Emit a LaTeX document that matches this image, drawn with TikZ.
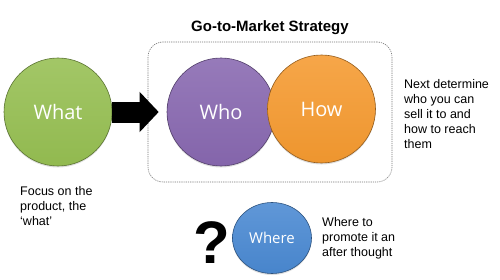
\documentclass[tikz,border=0pt]{standalone}
\usepackage{fontspec}
\setmainfont{Liberation Sans}
\newfontfamily\discfont{Open Sans}
\usetikzlibrary{arrows.meta,shapes.geometric,shadows}

\definecolor{whatgreen}{HTML}{96BF52}
\definecolor{whopurple}{HTML}{8868B0}
\definecolor{howorange}{HTML}{F59A30}
\definecolor{whereblue}{HTML}{4A89D2}

\begin{document}
\begin{tikzpicture}[
        x=1pt, y=1pt,
        disc/.style  = {circle, draw=#1!60!black, line width=0.6pt,
                        top color=#1!88!white, bottom color=#1!97!black,
                        minimum size=108pt, inner sep=0pt, text=white,
                        font=\discfont\fontsize{20}{24}\selectfont,
                        drop shadow={opacity=0.25, shadow xshift=0pt, shadow yshift=-1.5pt}},
        gtm/.style   = {draw=black!55, line width=0.6pt, dash pattern=on 1.2pt off 1pt, rounded corners=15pt,
                        minimum width=244pt, minimum height=140pt},
        note/.style  = {align=left, inner sep=0pt, font=\fontsize{12.5}{15}\selectfont},
        block/.style = {line width=21pt, -{Triangle[length=19pt, width=39pt]}}
    ]
        \useasboundingbox (0,0) rectangle (500,279);
        \node[gtm] (box) at (270,167) {};
        \node[anchor=base, font=\bfseries\fontsize{15}{18}\selectfont] (title) at (270,247) {Go-to-Market Strategy};
        \node[disc=whatgreen] (what) at (58,167)    {What};
        \node[disc=whopurple] (who)  at (221,167)   {Who};
        \node[disc=howorange] (how)  at (321.5,170) {How};
        \draw[block, shorten >=8pt] (what) -- (who);
        \node[anchor=base, font=\bfseries\fontsize{60}{60}\selectfont] (ask) at (212,16) {?};
        \node[disc=whereblue, ellipse, minimum width=79pt, minimum height=71pt,
              font=\discfont\fontsize{15}{18}\selectfont] (where) at (272,41) {Where};
        % notes (anchored on their last line)
        \node[note, anchor=base west] (whatnote)  at (20,54)   {Focus on the\\product, the\\‘what’};
        \node[note, anchor=base west] (gtmnote)   at (404,131) {Next determine\\who you can\\sell it to and\\how to reach\\them};
        \node[note, anchor=base west] (wherenote) at (322,23)  {Where to\\promote it an\\after thought};
\end{tikzpicture}
\end{document}
